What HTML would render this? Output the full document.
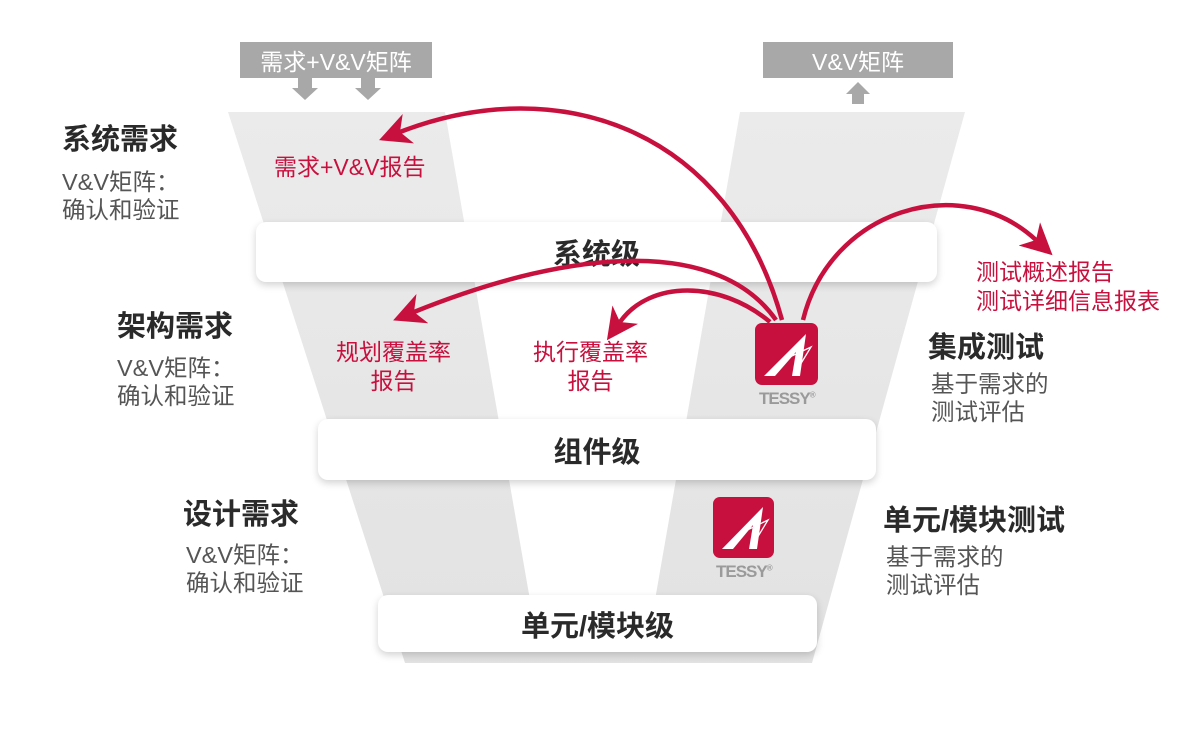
<!DOCTYPE html>
<html><head><meta charset="utf-8"><style>
body{margin:0;width:1201px;height:733px;background:#fff;position:relative;overflow:hidden;font-family:"Liberation Sans","Noto Sans CJK SC",sans-serif}
.t{position:absolute;white-space:nowrap;line-height:1}
.h{font-weight:bold;font-size:29px;color:#2a2a2a}
.g{font-size:23.5px;color:#555;line-height:28px}
.r{font-size:23px;color:#c8103e;line-height:29px}
.box{position:absolute;background:#fff;border-radius:10px;box-shadow:0 3px 8px rgba(0,0,0,0.18);display:flex;align-items:center;justify-content:center;font-weight:bold;font-size:29px;color:#2a2a2a}
.gb{position:absolute;background:#a8a8a8;color:#fff;font-size:23px;display:flex;align-items:center;justify-content:center}
.tess{position:absolute;font-size:17px;font-weight:bold;color:#9a9a9a;letter-spacing:-1px}
</style></head><body>
<svg width="1201" height="733" style="position:absolute;left:0;top:0">
<defs>
<linearGradient id="gr" x1="0" y1="0" x2="0" y2="1"><stop offset="0" stop-color="#ebebeb"/><stop offset="1" stop-color="#e2e2e2"/></linearGradient>
<marker id="ah" markerWidth="7" markerHeight="7" refX="2" refY="3.5" orient="auto" markerUnits="strokeWidth"><path d="M0,0 L7,3.5 L0,7 L2,3.5 Z" fill="#c8103e"/></marker>
</defs>
<polygon points="228,112 965,112 812,663 405,663" fill="url(#gr)"/>
<polygon points="445,112 740,112 655,600 530,600" fill="#fff"/>
<polygon points="298,78 312,78 312,88 318,88 305,100 292,88 298,88" fill="#a8a8a8"/>
<polygon points="361,78 375,78 375,88 381,88 368,100 355,88 361,88" fill="#a8a8a8"/>
<polygon points="852,104 864,104 864,94 870,94 858,82 846,94 852,94" fill="#a8a8a8"/>
</svg>
<div class="gb" style="left:240px;top:42px;width:192px;height:36px">需求+V&amp;V矩阵</div>
<div class="gb" style="left:763px;top:42px;width:190px;height:36px">V&amp;V矩阵</div>
<div class="box" style="left:256px;top:222px;width:681px;height:60px">系统级</div>
<div class="box" style="left:318px;top:419px;width:558px;height:61px">组件级</div>
<div class="box" style="left:378px;top:595px;width:439px;height:57px">单元/模块级</div>
<svg width="1201" height="733" style="position:absolute;left:0;top:0">
<g fill="none" stroke="#c8103e" stroke-width="4.5">
<path d="M782 320 C730 130, 560 70, 400 132" marker-end="url(#ah)"/>
<path d="M776 320 C720 240, 580 245, 414 312" marker-end="url(#ah)"/>
<path d="M770 322 C720 280, 650 280, 620 322" marker-end="url(#ah)"/>
<path d="M803 320 C830 210, 960 170, 1036 240" marker-end="url(#ah)"/>
</g>
<g>
<rect x="755" y="323" width="63" height="62" rx="7" fill="#c8103e"/>
<polygon points="764,376 806,334 800,376 792,376 796,352 775,376" fill="#fff"/>
<polyline points="779,362 811,347 797,370" fill="none" stroke="#fff" stroke-width="1.3"/>
<rect x="713" y="497" width="61" height="61" rx="7" fill="#c8103e"/>
<polygon points="722,549 763,507 757,549 749,549 753,525 733,549" fill="#fff"/>
<polyline points="737,535 768,520 754,543" fill="none" stroke="#fff" stroke-width="1.3"/>
</g>
</svg>
<div class="tess" style="left:759px;top:389px">TESSY<sup style="font-size:8px">®</sup></div>
<div class="tess" style="left:716px;top:562px">TESSY<sup style="font-size:8px">®</sup></div>

<div class="t h" style="left:62px;top:126px">系统需求</div>
<div class="t g" style="left:62px;top:168px">V&amp;V矩阵：<br>确认和验证</div>
<div class="t h" style="left:117px;top:313px">架构需求</div>
<div class="t g" style="left:117px;top:354px">V&amp;V矩阵：<br>确认和验证</div>
<div class="t h" style="left:183px;top:501px">设计需求</div>
<div class="t g" style="left:186px;top:541px">V&amp;V矩阵：<br>确认和验证</div>

<div class="t h" style="left:928px;top:334px">集成测试</div>
<div class="t g" style="left:931px;top:370px">基于需求的<br>测试评估</div>
<div class="t h" style="left:883px;top:507px">单元/模块测试</div>
<div class="t g" style="left:886px;top:543px">基于需求的<br>测试评估</div>

<div class="t r" style="left:274px;top:153px">需求+V&amp;V报告</div>
<div class="t r" style="left:976px;top:258px">测试概述报告<br>测试详细信息报表</div>
<div class="t r" style="left:336px;top:338px;text-align:center">规划覆盖率<br>报告</div>
<div class="t r" style="left:533px;top:338px;text-align:center">执行覆盖率<br>报告</div>
</body></html>
